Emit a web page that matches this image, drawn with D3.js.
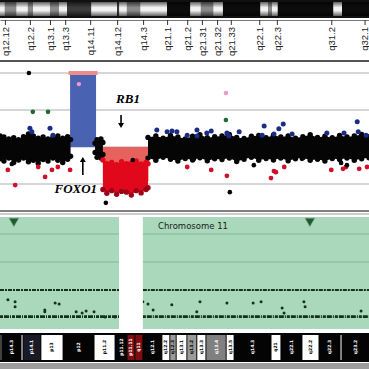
<!DOCTYPE html>
<html>
<head>
<meta charset="utf-8">
<script src="https://cdn.jsdelivr.net/npm/d3@7"></script>
<style>
  body { margin: 0; background: #fff; }
  svg { display: block; }
</style>
</head>
<body>
<div id="chart"></div>
<script>
"use strict";

// ---- chromosome 13 (upper track), positions in Mb ----
var chr13Bands = [
  [24.2, 25.2, "gneg"], [25.2, 27.5, "gpos50"], [27.5, 29.9, "gneg"], [29.9, 30.9, "gpos50"],
  [30.9, 34.4, "gneg"], [34.4, 36.2, "gpos50"], [36.2, 37.9, "gneg"], [37.9, 42.8, "gpos75"],
  [42.8, 48.1, "gneg"], [48.1, 48.5, "gpos75"], [48.5, 50.1, "gneg"], [50.1, 52.8, "gpos50"],
  [52.8, 58.3, "gneg"], [58.3, 63.0, "gpos100"], [63.0, 65.2, "gneg"], [65.2, 67.7, "gpos50"],
  [67.7, 69.7, "gneg"], [69.7, 77.3, "gpos100"], [77.3, 78.9, "gneg"], [78.9, 79.7, "gpos50"],
  [79.7, 80.9, "gneg"], [80.9, 92.2, "gpos100"], [92.2, 94.0, "gneg"], [94.0, 99.5, "gpos100"]
];
var tickLabels = ["q12.12", "q12.2", "q13.1", "q13.3", "q14.11", "q14.12", "q14.3", "q21.1",
                  "q21.2", "q21.31", "q21.32", "q21.33", "q22.1", "q22.3", "q31.2", "q32.1"];
var tickPos = [25.2, 30.3, 34.4, 37.5, 42.6, 48.1, 53.4, 58.3,
               62.4, 65.4, 68.5, 71.3, 77.1, 80.7, 91.8, 98.6];
var gridLog2 = [2, 1, 0, -1];

// log2 ratio cloud, read as upper / lower envelope per segment
var seg1Pos = [24.2, 25.0, 26.0, 27.0, 28.0, 29.0, 30.0, 31.0, 32.0, 33.0, 34.0, 35.0, 36.0, 37.0, 38.0, 38.6];
var seg1Hi  = [0.30, 0.27, 0.22, 0.25, 0.20, 0.28, 0.35, 0.30, 0.24, 0.27, 0.22, 0.26, 0.30, 0.24, 0.28, 0.20];
var seg1Lo  = [-0.32, -0.38, -0.30, -0.42, -0.35, -0.30, -0.40, -0.36, -0.44, -0.34, -0.38, -0.30, -0.36, -0.42, -0.33, -0.25];
var seg2Pos = [43.6, 44.0, 44.4, 44.8, 45.2];
var seg2Hi  = [0.10, 0.20, 0.15, 0.22, 0.12];
var seg2Lo  = [-0.15, -0.28, -0.22, -0.30, -0.20];
var seg3Pos = [54.4, 56, 57.5, 59, 60.5, 62, 63.5, 65, 66.5, 68, 69.5, 71, 72.5, 74, 75.5, 77,
               78.5, 80, 81.5, 83, 84.5, 86, 87.5, 89, 90.5, 92, 93.5, 95, 96.5, 98, 99.5];
var seg3Hi  = [0.26, 0.30, 0.24, 0.31, 0.27, 0.22, 0.29, 0.33, 0.25, 0.28, 0.30, 0.34, 0.26, 0.23, 0.29, 0.31,
               0.25, 0.32, 0.27, 0.30, 0.24, 0.28, 0.33, 0.26, 0.29, 0.25, 0.31, 0.27, 0.30, 0.34, 0.28];
var seg3Lo  = [-0.30, -0.36, -0.28, -0.33, -0.38, -0.31, -0.35, -0.29, -0.37, -0.32, -0.34, -0.30, -0.39, -0.33, -0.28, -0.36,
               -0.31, -0.35, -0.30, -0.37, -0.32, -0.29, -0.36, -0.33, -0.38, -0.31, -0.34, -0.30, -0.36, -0.32, -0.29];
var lossPos = [45.2, 46, 47, 48, 49, 50, 51, 52, 53, 54, 54.4];
var lossHi  = [-0.35, -0.45, -0.42, -0.48, -0.40, -0.45, -0.43, -0.38, -0.46, -0.42, -0.45];
var lossLo  = [-1.15, -1.25, -1.18, -1.28, -1.20, -1.22, -1.30, -1.18, -1.24, -1.15, -1.10];

// called segments: [start, end, log2]
var gainSeg = [38.5, 43.8, 2.0];
var lossSeg = [45.2, 54.5, -0.92];

// outlier probes [Mb, log2]
var bluePts = [[30.3, 0.51], [30.7, 0.41], [34.4, 0.51], [35.0, 0.32], [56.2, 0.46], [58.3, 0.41], [59.3, 0.43],
  [60.3, 0.41], [62.4, 0.32], [64.4, 0.46], [64.4, 0.30], [66.4, 0.38], [67.3, 0.43], [70.5, 0.38], [70.9, 0.30],
  [73.0, 0.41], [78.1, 0.57], [77.7, 0.32], [80.1, 0.35], [81.1, 0.49], [82.0, 0.62], [83.8, 0.35], [90.9, 0.38],
  [94.4, 0.38], [97.1, 0.68], [97.3, 0.41], [98.9, 0.32]];
var greenPts = [[30.9, 0.95], [34.0, 0.95], [70.3, 0.73]];
var pinkPts = [[40.3, 1.70], [70.3, 1.46]];
var redPts = [[25.8, -0.62], [27.3, -1.03], [32.0, -0.54], [33.4, -0.81], [34.8, -0.62], [36.0, -0.54], [38.5, -0.62],
  [62.4, -0.54], [67.3, -0.62], [70.5, -0.78], [79.5, -0.84], [80.1, -0.65], [80.5, -0.68], [82.2, -0.54],
  [91.8, -0.62], [94.2, -0.59], [94.8, -0.54], [97.5, -0.59], [99.1, -0.54]];
var blackPts = [[30.1, 2.0], [71.1, -1.22], [26.6, -0.46], [63.8, -0.32], [76.0, -0.49], [85.8, -0.32],
  [93.8, -0.43], [95.0, -0.49], [51.3, -0.35], [45.8, -1.51]];

var geneNames = ["FOXO1", "RB1"];
var genePos = [41.1, 48.9];

// ---- chromosome 11 (lower track) ----
var chr11Bands = [
  [22.0, 22.5, "gpos50", "p15.1"], [22.5, 27.3, "gpos100", "p14.3"], [27.3, 27.8, "gneg", "p14.2"],
  [27.8, 32.3, "gpos75", "p14.1"], [32.3, 37.9, "gneg", "p13"], [37.9, 45.7, "gpos100", "p12"],
  [45.7, 51.0, "gneg", "p11.2"], [51.0, 54.0, "gpos100", "p11.12"], [54.0, 56.0, "acen", "p11.11"],
  [56.0, 58.0, "acen", "q11"], [58.0, 62.8, "gpos100", "q12.1"], [62.8, 64.8, "gneg", "q12.2"],
  [64.8, 66.4, "gpos25", "q12.3"], [66.4, 69.1, "gneg", "q13.1"], [69.1, 71.6, "gpos25", "q13.2"],
  [71.6, 73.9, "gneg", "q13.3"], [73.9, 79.0, "gpos50", "q13.4"], [79.0, 81.0, "gneg", "q13.5"],
  [81.0, 90.3, "gpos100", "q14.3"], [90.3, 92.8, "gneg", "q21"], [92.8, 98.1, "gpos100", "q22.1"],
  [98.1, 102.4, "gneg", "q22.2"], [102.4, 107.7, "gpos100", "q22.3"], [107.7, 108.2, "gneg", "q23.1"],
  [108.2, 115.0, "gpos100", "q23.2"]
];
var chr11Gap = [52.0, 58.0];
var chr11Markers = [25.5, 100.1];
var chr11Grid = [3, 2];
var chr11Rows = [1, 0.05];
var chr11Pts = [[24.0, 0.65], [25.8, 0.58], [25.8, 0.40], [33.3, 0.29], [33.3, 0.22], [35.9, 0.54], [36.9, 0.50],
  [41.2, 0.22], [42.7, 0.18], [43.7, 0.25], [45.7, 0.22], [48.5, 0.04], [51.0, 0.04], [58.0, 0.58], [59.3, 0.50],
  [60.6, 0.29], [65.3, 0.47], [71.6, 0.22], [72.4, 0.58], [79.2, 0.54], [85.8, 0.54], [87.8, 0.58], [93.1, 0.36],
  [93.6, 0.18], [98.6, 0.58], [98.9, 0.40], [113.0, 0.25]];

// ---- drawing ----
var config = { width: 369, height: 369 };

var stainTop = { gneg: "#f2f2f2", gpos50: "#8a8a8a", gpos75: "#3c3c3c", gpos100: "#0c0c0c" };
var stainBot = { gneg: "#ffffff", gpos25: "#9a9a9a", gpos50: "#808080", gpos75: "#1a1a26",
                 gpos100: "#040404", acen: "#7e0c10" };

var svg = d3.select("#chart").append("svg")
    .attr("width", config.width)
    .attr("height", config.height);

var defs = svg.append("defs");
var grad = defs.append("linearGradient").attr("id", "tube")
    .attr("x1", 0).attr("y1", 0).attr("x2", 0).attr("y2", 1);
grad.append("stop").attr("offset", "0%").attr("stop-color", "#000").attr("stop-opacity", 0.6);
grad.append("stop").attr("offset", "40%").attr("stop-color", "#000").attr("stop-opacity", 0);
grad.append("stop").attr("offset", "60%").attr("stop-color", "#000").attr("stop-opacity", 0);
grad.append("stop").attr("offset", "100%").attr("stop-color", "#000").attr("stop-opacity", 0.6);

var x = d3.scaleLinear().domain([24.2, 99.5]).range([0, config.width]);
var y = d3.scaleLinear().domain([-1, 2]).range([184, 73]);
var x2 = d3.scaleLinear().domain([22, 115]).range([0, config.width]);
var y2 = d3.scaleLinear().domain([0, 3]).range([318, 234]);

// top ideogram
svg.append("rect").attr("x", 0).attr("y", 0).attr("width", config.width).attr("height", 18).attr("fill", "#111");
svg.append("g").selectAll("rect").data(chr13Bands).enter().append("rect")
    .attr("x", function(d) { return x(d[0]); })
    .attr("width", function(d) { return x(d[1]) - x(d[0]); })
    .attr("y", 2).attr("height", 14)
    .attr("fill", function(d) { return stainTop[d[2]]; });
svg.append("rect").attr("x", 0).attr("y", 2).attr("width", config.width).attr("height", 14).attr("fill", "url(#tube)");

// band axis
var axis = svg.append("g").attr("transform", "translate(0,20)")
    .call(d3.axisBottom(x).tickValues(tickPos)
      .tickFormat(function(d, i) { return tickLabels[i]; }).tickSize(5).tickSizeOuter(0));
axis.select(".domain").attr("stroke", "#777");
axis.selectAll("line").attr("stroke", "#333");
axis.selectAll("text")
    .attr("transform", "rotate(-90)")
    .attr("x", -7).attr("y", 0).attr("dy", "0.35em")
    .attr("text-anchor", "end")
    .attr("font-family", "Liberation Sans, Arial, sans-serif")
    .attr("font-size", 9.5).attr("fill", "#222");

// upper panel frame + grid
svg.append("line").attr("x1", 0).attr("x2", config.width).attr("y1", 61).attr("y2", 61)
    .attr("stroke", "#555").attr("stroke-width", 2);
svg.append("g").selectAll("line").data(gridLog2).enter().append("line")
    .attr("x1", 0).attr("x2", config.width)
    .attr("y1", function(d) { return y(d); }).attr("y2", function(d) { return y(d); })
    .attr("stroke", "#c9c9c9").attr("stroke-width", 1.5);

// called segments
svg.append("rect")
    .attr("x", x(gainSeg[0])).attr("width", x(gainSeg[1]) - x(gainSeg[0]))
    .attr("y", y(gainSeg[2])).attr("height", y(0) - y(gainSeg[2]))
    .attr("fill", "#4a62b2");
svg.append("rect")
    .attr("x", x(gainSeg[0]) - 1.5).attr("width", x(gainSeg[1]) - x(gainSeg[0]) + 3)
    .attr("y", y(gainSeg[2]) - 2).attr("height", 4)
    .attr("fill", "#f08a8a");
svg.append("rect")
    .attr("x", x(lossSeg[0])).attr("width", x(lossSeg[1]) - x(lossSeg[0]))
    .attr("y", y(0)).attr("height", y(lossSeg[2]) - y(0))
    .attr("fill", "#e6625c");

// probe cloud
function cloud(pos, hi, lo, fill, edgeHi, edgeLo) {
  var pts = pos.map(function(p, i) { return { p: p, hi: hi[i], lo: lo[i] }; });
  var area = d3.area()
      .x(function(d) { return x(d.p); })
      .y0(function(d) { return y(d.lo); })
      .y1(function(d) { return y(d.hi); });
  var g = svg.append("g");
  g.append("path").datum(pts).attr("d", area).attr("fill", fill);
  g.selectAll("circle.hi").data(pts).enter().append("circle")
      .attr("cx", function(d) { return x(d.p); }).attr("cy", function(d) { return y(d.hi); })
      .attr("r", 2.7).attr("fill", edgeHi);
  g.selectAll("circle.lo").data(pts).enter().append("circle")
      .attr("cx", function(d) { return x(d.p); }).attr("cy", function(d) { return y(d.lo); })
      .attr("r", 2.7).attr("fill", edgeLo);
}
cloud(seg1Pos, seg1Hi, seg1Lo, "#050505", "#050505", "#050505");
cloud(seg2Pos, seg2Hi, seg2Lo, "#050505", "#050505", "#050505");
cloud(seg3Pos, seg3Hi, seg3Lo, "#050505", "#050505", "#050505");
cloud(lossPos, lossHi, lossLo, "#e0081a", "#e0081a", "#9a0616");

function dots(data, color, r) {
  svg.append("g").selectAll("circle").data(data).enter().append("circle")
      .attr("cx", function(d) { return x(d[0]); })
      .attr("cy", function(d) { return y(d[1]); })
      .attr("r", r).attr("fill", color);
}
dots(bluePts, "#1b2c86", 2.5);
dots(greenPts, "#1c6a2c", 2.3);
dots(pinkPts, "#ee9ac8", 2.2);
dots(redPts, "#d0102a", 2.4);
dots(blackPts, "#050505", 2.3);

// gene annotations
var serif = "Liberation Serif, Times New Roman, serif";
svg.append("text").attr("x", x(genePos[1]) + 7).attr("y", y(1.19))
    .attr("text-anchor", "middle").attr("font-family", serif)
    .attr("font-style", "italic").attr("font-weight", "bold").attr("font-size", 13)
    .text(geneNames[1]);
svg.append("text").attr("x", x(genePos[0]) - 7).attr("y", y(-1.24))
    .attr("text-anchor", "middle").attr("font-family", serif)
    .attr("font-style", "italic").attr("font-weight", "bold").attr("font-size", 13)
    .text(geneNames[0]);

function arrow(xp, yFrom, yTo) {
  var dir = yTo > yFrom ? 1 : -1;
  svg.append("line").attr("x1", xp).attr("x2", xp).attr("y1", yFrom).attr("y2", yTo - dir * 4)
      .attr("stroke", "#000").attr("stroke-width", 1.6);
  svg.append("path")
      .attr("d", "M" + (xp - 3) + "," + (yTo - dir * 5) + "L" + (xp + 3) + "," + (yTo - dir * 5) + "L" + xp + "," + yTo + "Z")
      .attr("fill", "#000");
}
arrow(x(genePos[1]), 115, 128);
arrow(x(genePos[0]), 175, 157);

// separator between panels
svg.append("line").attr("x1", 0).attr("x2", config.width).attr("y1", 211).attr("y2", 211)
    .attr("stroke", "#555").attr("stroke-width", 1.5);
svg.append("line").attr("x1", 0).attr("x2", config.width).attr("y1", 214).attr("y2", 214)
    .attr("stroke", "#9a9a9a").attr("stroke-width", 1);

// lower panel (chromosome 11)
svg.append("rect").attr("x", 0).attr("y", 217).attr("width", config.width).attr("height", 112)
    .attr("fill", "#a9d8bb");
svg.append("g").selectAll("line").data(chr11Grid).enter().append("line")
    .attr("x1", 0).attr("x2", config.width)
    .attr("y1", function(d) { return y2(d); }).attr("y2", function(d) { return y2(d); })
    .attr("stroke", "#86b595").attr("stroke-width", 1.2);

var rowSegs = [[22.0, chr11Gap[0]], [chr11Gap[1], 115]];
chr11Rows.forEach(function(v, k) {
  svg.append("g").selectAll("line").data(rowSegs).enter().append("line")
      .attr("x1", function(d) { return x2(d[0]); }).attr("x2", function(d) { return x2(d[1]); })
      .attr("y1", y2(v)).attr("y2", y2(v))
      .attr("stroke", "#143219")
      .attr("stroke-width", k === 0 ? 2.2 : 2.6)
      .attr("stroke-dasharray", k === 0 ? "4,1,2,1" : "3,1,5,1,1,1");
});
svg.append("g").selectAll("circle").data(chr11Pts).enter().append("circle")
    .attr("cx", function(d) { return x2(d[0]); })
    .attr("cy", function(d) { return y2(d[1]); })
    .attr("r", 1.5).attr("fill", "#143219");

svg.append("rect")
    .attr("x", x2(chr11Gap[0])).attr("width", x2(chr11Gap[1]) - x2(chr11Gap[0]))
    .attr("y", 217).attr("height", 112).attr("fill", "#ffffff");

svg.append("g").selectAll("path").data(chr11Markers).enter().append("path")
    .attr("d", d3.symbol().type(d3.symbolTriangle).size(40))
    .attr("transform", function(d) { return "translate(" + x2(d) + ",221) rotate(180)"; })
    .attr("fill", "#1e5c30").attr("stroke", "#6fa582").attr("stroke-width", 0.6);

svg.append("text").attr("x", 193).attr("y", 229)
    .attr("text-anchor", "middle")
    .attr("font-family", "DejaVu Sans, Verdana, sans-serif")
    .attr("font-size", 8.5).attr("fill", "#1a1a1a")
    .text("Chromosome 11");

// lower ideogram
svg.append("rect").attr("x", 0).attr("y", 333).attr("width", config.width).attr("height", 29).attr("fill", "#050505");
var bb = svg.append("g").selectAll("g").data(chr11Bands).enter().append("g");
bb.append("rect")
    .attr("x", function(d) { return x2(d[0]) + 0.5; })
    .attr("width", function(d) { return Math.max(0.8, x2(d[1]) - x2(d[0]) - 1); })
    .attr("y", 335).attr("height", 25)
    .attr("fill", function(d) { return stainBot[d[2]]; });
bb.filter(function(d) { return x2(d[1]) - x2(d[0]) > 4; }).append("text")
    .attr("transform", function(d) { return "translate(" + (x2((d[0] + d[1]) / 2) + 1.5) + ",347) rotate(-90)"; })
    .attr("text-anchor", "middle")
    .attr("font-family", "DejaVu Sans, sans-serif")
    .attr("font-size", 4.5).attr("font-weight", "bold")
    .attr("fill", function(d) { return d[2] === "gneg" || d[2] === "gpos25" ? "#000" : "#fff"; })
    .text(function(d) { return d[3]; });
svg.append("rect").attr("x", 0).attr("y", 363).attr("width", config.width).attr("height", 6).attr("fill", "#9c9c9c");
</script>
</body>
</html>
